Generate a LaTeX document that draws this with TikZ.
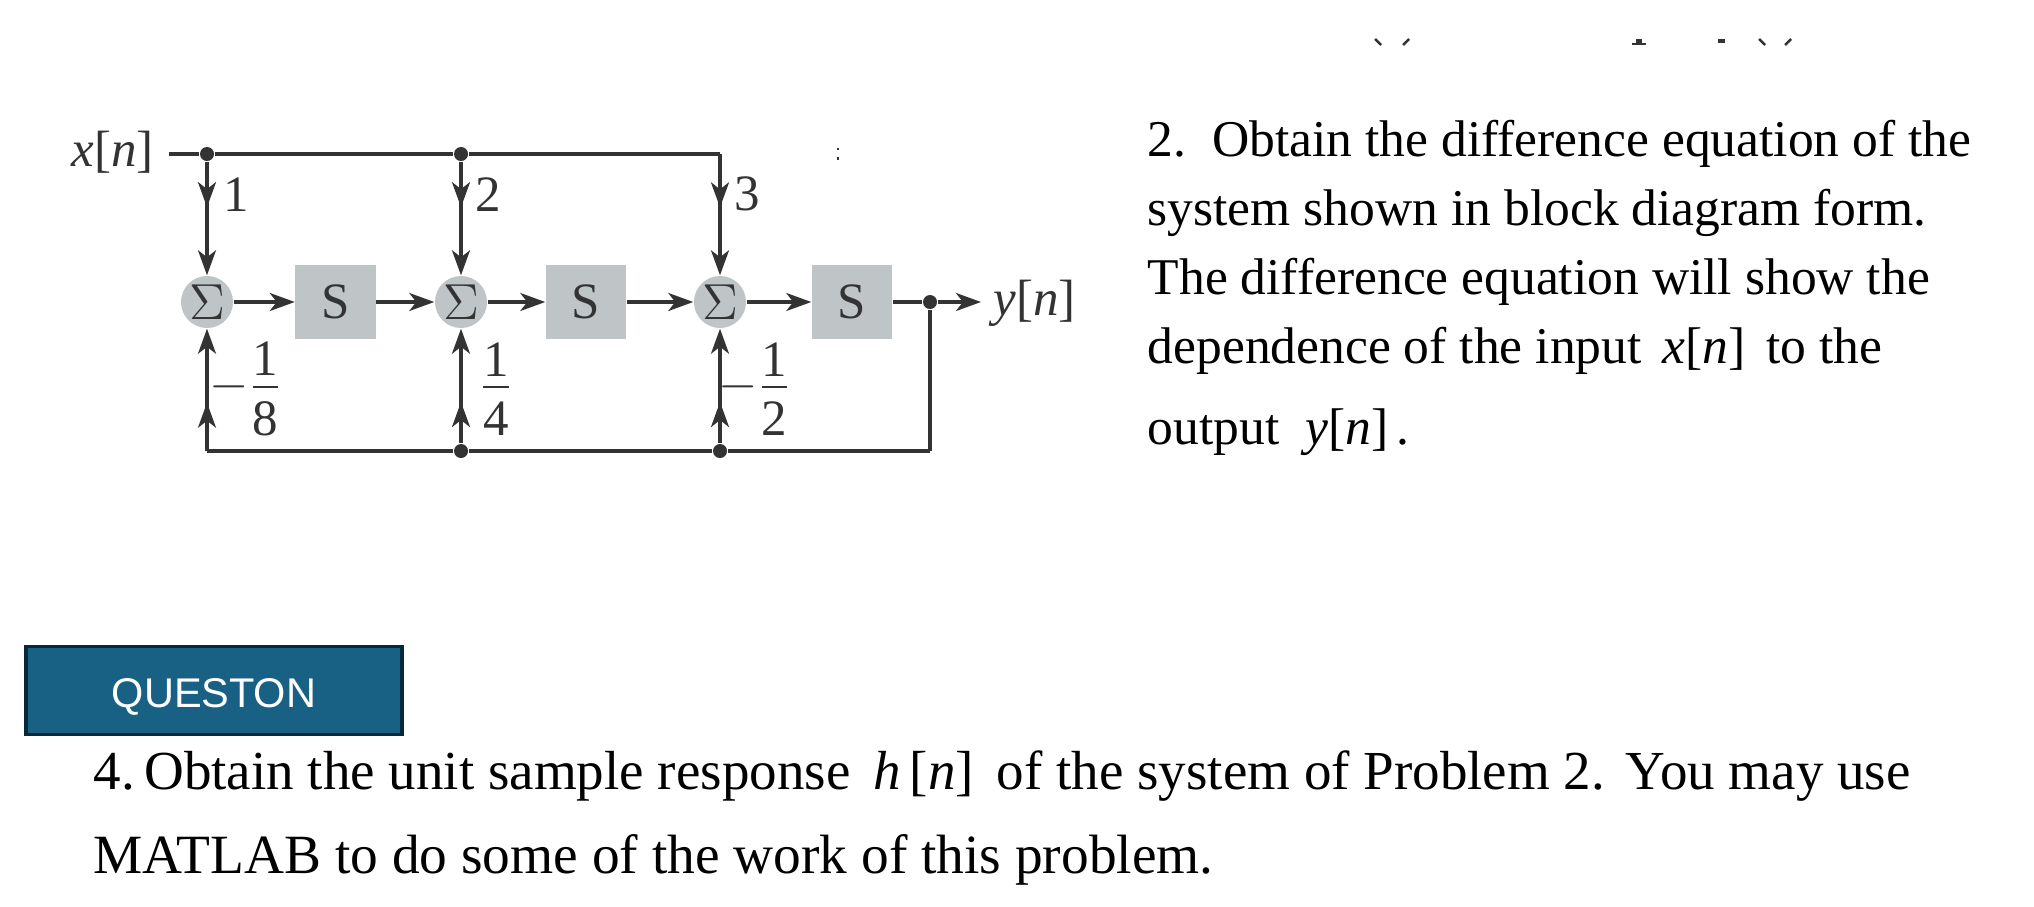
\documentclass[tikz,border=0pt]{standalone}
\usepackage{amsmath}
\usepackage{fontspec}
\setmainfont{Liberation Serif}
\newfontfamily\labelfont{Liberation Sans}
\usetikzlibrary{arrows.meta,decorations.markings}
\definecolor{inkgray}{HTML}{333333}
\definecolor{blockgray}{HTML}{BFC4C6}
\definecolor{tabblue}{HTML}{186185}
\definecolor{tabedge}{HTML}{04293A}
\newcommand{\ital}[1]{\textit{#1}}
\newcommand{\gainfrac}[2]{\genfrac{}{}{0.7pt}{0}{\mbox{\raisebox{-3pt}{#1}}}{\mbox{\raisebox{-0.3pt}{#2}}}}
\tikzset{
    sumnode/.style={circle, fill=blockgray, minimum size=5.2mm, inner sep=0pt, text=inkgray, font=\fontsize{15}{15}\selectfont},
    delaybox/.style={rectangle, fill=blockgray, minimum width=8mm, minimum height=7.4mm, inner sep=0pt, text=inkgray, font=\fontsize{14.5}{15}\selectfont},
    junction/.style={circle, fill=inkgray, minimum size=1.4mm, inner sep=0pt},
    wire/.style={draw=inkgray, line width=0.95pt},
    headtip/.style={-{Stealth[length=2.5mm,width=1.8mm,inset=0.7mm]}},
    midhead/.style={postaction={decorate}, decoration={markings,
        mark=at position #1 with {\arrow{Stealth[length=2.5mm,width=1.8mm,inset=0.7mm]}}}},
    gainlabel/.style={text=inkgray, font=\fontsize{14.5}{15}\selectfont, inner sep=0pt},
    bodyline/.style={anchor=base west, inner sep=0pt, font=\fontsize{14.66}{15}\selectfont},
    lowerline/.style={anchor=base west, inner sep=0pt, font=\fontsize{15.65}{16}\selectfont},
    scrap/.style={line width=0.7pt, draw=black!80}
}
\begin{document}
\begin{tikzpicture}[x=0.01cm, y=-0.01cm]

    \useasboundingbox (0, 0) rectangle (2034, 906);

    % blocks
    \node[sumnode] (sum1) at (207, 302) {$\Sigma$};
    \node[delaybox] (box1) at (335.5, 302) {S};
    \node[sumnode] (sum2) at (461, 302) {$\Sigma$};
    \node[delaybox] (box2) at (586, 302) {S};
    \node[sumnode] (sum3) at (720, 302) {$\Sigma$};
    \node[delaybox] (box3) at (852, 302) {S};

    % junctions
    \coordinate (xstart) at (169, 154);
    \node[junction] (top1) at (207, 154) {};
    \node[junction] (top2) at (461, 154) {};
    \coordinate (top3) at (720, 154);
    \node[junction] (out) at (930, 302) {};
    \coordinate (outend) at (981, 302);
    \coordinate (low1) at (207, 451);
    \node[junction] (low2) at (461, 451) {};
    \node[junction] (low3) at (720, 451) {};
    \coordinate (lowout) at (930, 451);

    % input rail
    \draw[wire] (xstart) -- (top1);
    \draw[wire] (top1) -- (top2);
    \draw[wire] (top2) -- (top3);

    % feed-forward branches
    \draw[wire, headtip, midhead=0.40] (top1) -- (sum1);
    \draw[wire, headtip, midhead=0.40] (top2) -- (sum2);
    \draw[wire, headtip, midhead=0.44] (top3) -- (sum3);

    % forward path
    \draw[wire, headtip] (sum1) -- (box1);
    \draw[wire, headtip] (box1) -- (sum2);
    \draw[wire, headtip] (sum2) -- (box2);
    \draw[wire, headtip] (box2) -- (sum3);
    \draw[wire, headtip] (sum3) -- (box3);
    \draw[wire] (box3) -- (out);
    \draw[wire, headtip] (out) -- (outend);

    % feedback
    \draw[wire] (out) -- (lowout);
    \draw[wire] (lowout) -- (low3);
    \draw[wire] (low3) -- (low2);
    \draw[wire] (low2) -- (low1);
    \draw[wire, headtip, midhead=0.395] (low1) -- (sum1);
    \draw[wire, headtip, midhead=0.36] (low2) -- (sum2);
    \draw[wire, headtip, midhead=0.36] (low3) -- (sum3);

    % labels
    \node[gainlabel, anchor=base west] (xlabel) at (71, 166) {\ital{x}[\ital{n}]};
    \node[gainlabel, anchor=base west] (ylabel) at (993, 315) {\ital{y}[\ital{n}]};
    \node[gainlabel] (gain1) at (236, 195) {1};
    \node[gainlabel] (gain2) at (488, 195) {2};
    \node[gainlabel] (gain3) at (747, 194) {3};
    \node[gainlabel] (gain4) at (246, 389) {$-\gainfrac{1}{8}$};
    \node[gainlabel] (gain5) at (496, 389) {$\gainfrac{1}{4}$};
    \node[gainlabel] (gain6) at (755, 389) {$-\gainfrac{1}{2}$};

    % problem text
    \node[bodyline] (para1) at (1147, 156) {2.\ \ Obtain the difference equation of the};
    \node[bodyline] (para2) at (1147, 225) {system shown in block diagram form.};
    \node[bodyline] (para3) at (1147, 294) {The difference equation will show the};
    \node[bodyline] (para4) at (1147, 363) {dependence of the input\hspace{0.4em}\ital{x}[\ital{n}]\,\ to the};
    \node[bodyline] (para5) at (1147, 444) {output\ \ \ital{y}[\ital{n}]\,.};

    % tab
    \node[draw=tabedge, fill=tabblue, line width=1pt, minimum width=37.6mm, minimum height=8.75mm,
        inner sep=0pt, text height=9.8pt, text depth=0pt, text=white,
        font=\labelfont\fontsize{11.8}{12}\selectfont] (tab) at (214, 690.5) {QUESTON};

    \node[lowerline] (para6) at (93, 789) {4.\hspace{0.17em}Obtain the unit sample response\hspace{0.41em}\ital{h}\,[\ital{n}]\, of the system of Problem 2.\hspace{0.375em}You may use};
    \node[lowerline, font=\fontsize{15.75}{16}\selectfont] (para7) at (93, 873) {MATLAB to do some of the work of this problem.};

    % cut-off marks
    \draw[scrap] (1375, 39) -- (1381, 45);
    \draw[scrap] (1403, 45) -- (1409, 39);
    \draw[scrap] (1632, 44) -- (1646, 44);
    \draw[scrap, line width=1.1pt] (1636, 41) -- (1642, 41);
    \draw[scrap, line width=1.2pt] (1718, 41) -- (1725, 41);
    \draw[scrap] (1759, 39) -- (1765, 45);
    \draw[scrap] (1785, 45) -- (1791, 39);
    \draw[scrap, dotted] (838, 148) -- (838, 161);

\end{tikzpicture}
\end{document}
